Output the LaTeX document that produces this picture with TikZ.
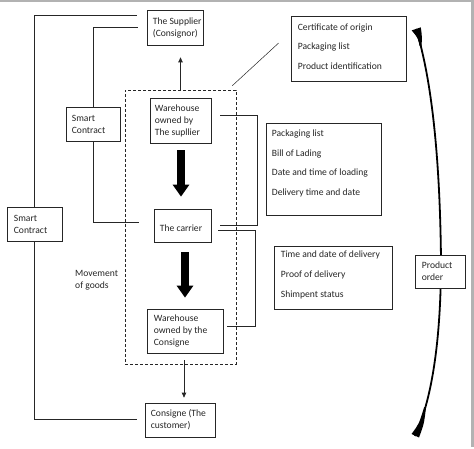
\documentclass[tikz,border=0pt]{standalone}
\usepackage{fontspec}
\setmainfont{Carlito}
\usetikzlibrary{arrows.meta,calc}
\begin{document}
\begin{tikzpicture}[x=1pt,y=-1pt,
  box/.style={draw=black!85, fill=white, line width=0.7pt, rectangle, inner sep=0pt, anchor=center},
  dashbox/.style={draw=black!85, line width=0.7pt, dash pattern=on 3pt off 2pt, rectangle, inner sep=0pt},
  txt/.style={inner sep=0pt, align=left, anchor=west, font=\fontsize{9.6}{12}\selectfont, text=black!85},
  list/.style={txt, font=\fontsize{9.6}{19.7}\selectfont},
  conn/.style={draw=black!85, line width=0.7pt},
  thinarrow/.style={conn, -{Triangle[length=5pt,width=4.5pt]}},
  bigarrow/.style={line width=8pt, -{Triangle[length=12pt,width=16pt]}},
  frameline/.style={draw=gray!60, line width=2.2pt}
]
\useasboundingbox (0,0) rectangle (474,449);

% frame remnants
\draw[frameline] (0,1) -- (474,1);
\draw[frameline] (472.5,0) -- (472.5,447);

% curved product order arrow (behind the box)
\coordinate (ctop) at (416,29);
\coordinate (cbot) at (415,436);
\draw[line width=1.8pt]
  (cbot) .. controls (434,395) and (441,330) .. (441,260) .. controls (440,160) and (432,80) .. (ctop);
\fill (411.7,30.4) -- (420.8,27.4) .. controls (422,36) .. (421.6,46) -- (419.6,46) .. controls (418,38) .. (411.7,30.4) -- cycle;
\fill (411.5,434) .. controls (419,424) .. (424.2,407) -- (426,407.5) .. controls (424,424) .. (419,437.5) -- cycle;

% boxes
\node[dashbox, minimum width=111pt, minimum height=274pt] (goods) at (180.5,227) {};
\node[box, minimum width=56pt, minimum height=35pt] (supplier) at (175,27.5) {};
\node[box, minimum width=61pt, minimum height=45pt] (wsup) at (180.5,120.5) {};
\node[box, minimum width=57pt, minimum height=33pt] (carrier) at (182.5,225.5) {};
\node[box, minimum width=76pt, minimum height=44pt] (wcon) at (185,331) {};
\node[box, minimum width=70pt, minimum height=34pt] (cons) at (180,420) {};
\node[box, minimum width=54pt, minimum height=34pt] (sc1) at (93,124) {};
\node[box, minimum width=55pt, minimum height=34pt] (sc2) at (34.5,224) {};
\node[box, minimum width=115pt, minimum height=65pt] (cert) at (348.5,48.5) {};
\node[box, minimum width=115pt, minimum height=92pt] (pack) at (323.5,169) {};
\node[box, minimum width=118pt, minimum height=63pt] (deliv) at (333,277.5) {};
\node[box, minimum width=50pt, minimum height=33pt] (porder) at (440,271.5) {};

% texts
\node[txt] (supplierT) at ($(supplier.west)+(6,0)$) {The Supplier\\(Consignor)};
\node[txt] (wsupT) at ($(wsup.west)+(5,0)$) {Warehouse\\owned by\\The supllier};
\node[txt] (carrierT) at ($(carrier.west)+(6,3)$) {The carrier};
\node[txt] (wconT) at ($(wcon.west)+(7,0)$) {Warehouse\\owned by the\\Consigne};
\node[txt] (consT) at ($(cons.west)+(6,0)$) {Consigne (The\\customer)};
\node[txt] (sc1T) at ($(sc1.west)+(6,0)$) {Smart\\Contract};
\node[txt] (sc2T) at ($(sc2.west)+(7,0)$) {Smart\\Contract};
\node[txt] (porderT) at ($(porder.west)+(7,0)$) {Product\\order};
\node[txt] (moveT) at (75,280.5) {Movement\\of goods};
\node[list] (certT) at ($(cert.west)+(7,-2)$) {Certificate of origin\\Packaging list\\Product identification};
\node[list] (packT) at ($(pack.west)+(6,-5.5)$) {Packaging list\\Bill of Lading\\Date and time of loading\\Delivery time and date};
\node[list] (delivT) at ($(deliv.west)+(7,-2.5)$) {Time and date of delivery\\Proof of delivery\\Shimpent status};

% thin arrows
\coordinate (supA) at ($(supplier.south)+(0,12)$);
\draw[thinarrow] (goods.north) -- (goods.north |- supA);
\coordinate (wcA) at ($(wcon.south)+(-1,7)$);
\coordinate (consA) at ($(cons.north)+(4,-5)$);
\draw[thinarrow] (wcA) -- (consA);

% movement arrows
\draw[bigarrow] ($(wsup.south)+(0.5,7)$) -- ($(carrier.north)+(-1.5,-12)$);
\draw[bigarrow] ($(carrier.south)+(2.5,10)$) -- ($(wcon.north)+(0,-11)$);

% smart contract lines
\coordinate (s1a) at ($(supplier.west)+(-9,0)$);
\draw[conn] (s1a) -| (sc1.north);
\coordinate (s1b) at ($(carrier.west)+(-15,-3.5)$);
\draw[conn] (sc1.south) |- (s1b);
\coordinate (s2a) at ($(supplier.north west)+(-10,6)$);
\draw[conn] (s2a) -| (sc2.north);
\coordinate (s2b) at ($(cons.west)+(-8,-1)$);
\draw[conn] (sc2.south) |- (s2b);

% brackets
\coordinate (b1a) at ($(wsup.east)+(9,-5.5)$);
\coordinate (b1b) at ($(carrier.east)+(9,-0.5)$);
\draw[conn] (b1a) -- ++(37,0) |- (b1b);
\coordinate (b2a) at ($(carrier.east)+(7,4.5)$);
\coordinate (b2b) at ($(wcon.east)+(4,-5)$);
\draw[conn] (b2a) -- ++(37,0) |- (b2b);

% diagonal to certificate box
\coordinate (d1) at ($(goods.north east)+(-4,-4)$);
\coordinate (d2) at ($(cert.west)+(-12,-5.5)$);
\draw[conn, line width=0.5pt] (d1) -- (d2);
\end{tikzpicture}
\end{document}
